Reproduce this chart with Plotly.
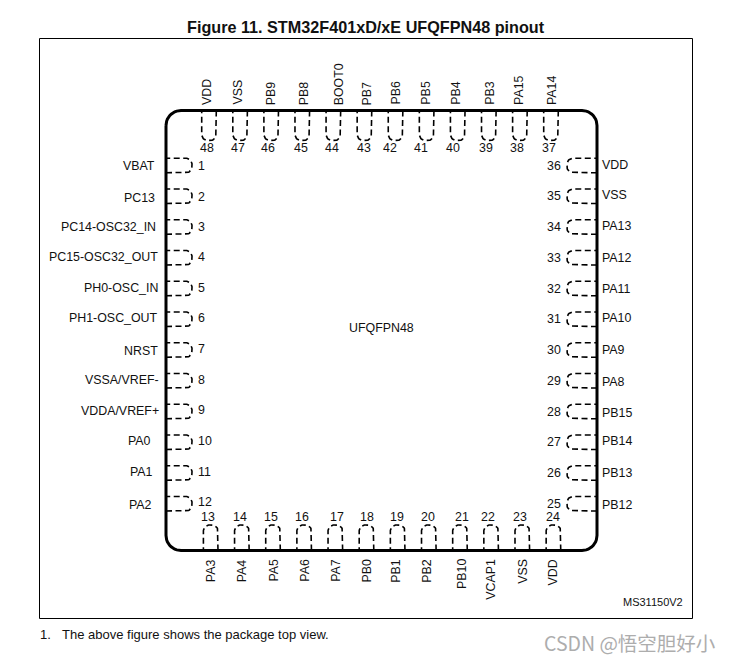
import numpy as np
import plotly.graph_objects as go

# pin names, counter clockwise from pin 1
left_pins = ['VBAT', 'PC13', 'PC14-OSC32_IN', 'PC15-OSC32_OUT', 'PH0-OSC_IN', 'PH1-OSC_OUT',
             'NRST', 'VSSA/VREF-', 'VDDA/VREF+', 'PA0', 'PA1', 'PA2']
bottom_pins = ['PA3', 'PA4', 'PA5', 'PA6', 'PA7', 'PB0', 'PB1', 'PB2', 'PB10', 'VCAP1', 'VSS', 'VDD']
right_pins = ['PB12', 'PB13', 'PB14', 'PB15', 'PA8', 'PA9', 'PA10', 'PA11', 'PA12', 'PA13', 'VSS', 'VDD']
top_pins = ['PA14', 'PA15', 'PB3', 'PB4', 'PB5', 'PB6', 'PB7', 'BOOT0', 'PB8', 'PB9', 'VSS', 'VDD']

title = 'Figure 11. STM32F401xD/xE UFQFPN48 pinout'
package = 'UFQFPN48'
revision = 'MS31150V2'
note_number = '1.'
note = 'The above figure shows the package top view.'
watermark = 'CSDN @悟空胆好小'

FONT = 'Liberation Sans'
INK = '#111111'
NAME_SIZE = 12.4

# package outline, in page pixels
PKG_L, PKG_R, PKG_T, PKG_B = 166, 597, 110.5, 550.5
PKG_RADIUS = 15
FRAME_L, FRAME_R, FRAME_T, FRAME_B = 39.5, 692.5, 38.5, 618.5


def arc(cx, cy, r, start, end):
    a = np.radians(np.linspace(start, end, 12))
    return cx + r * np.cos(a), cy + r * np.sin(a)


def outline():
    r = PKG_RADIUS
    parts = [arc(PKG_L + r, PKG_T + r, r, 180, 270), arc(PKG_R - r, PKG_T + r, r, 270, 360),
             arc(PKG_R - r, PKG_B - r, r, 0, 90), arc(PKG_L + r, PKG_B - r, r, 90, 180)]
    xs = np.concatenate([p[0] for p in parts] + [parts[0][0][:1]])
    ys = np.concatenate([p[1] for p in parts] + [parts[0][1][:1]])
    return xs, ys


def pad(base, center, depth, half, sign, vertical):
    # open end sits on the package edge, the rounded end points inward
    r = 6
    a1, b1 = arc(depth - r, half - r, r, 90, 0)
    a2, b2 = arc(depth - r, -half + r, r, 0, -90)
    u = np.concatenate([[0], a1, a2, [0]])
    v = np.concatenate([[half], b1, b2, [-half]])
    if vertical:
        return center + v, base + sign * u
    return base + sign * u, center + v


fig = go.Figure()


def add_line(xs, ys, width, dash='solid'):
    fig.add_trace(go.Scatter(x=xs, y=ys, mode='lines', hoverinfo='skip', showlegend=False,
                             line=dict(color='black', width=width, dash=dash)))


def label(x, y, text, size=NAME_SIZE, anchor='center', angle=0, yanchor='middle', **font):
    fig.add_annotation(x=x, y=y, text=text, showarrow=False, xanchor=anchor, yanchor=yanchor,
                       textangle=angle, xref='x', yref='y', borderpad=0,
                       font=dict(family=font.get('family', FONT), size=size, color=font.get('color', INK)))


add_line([FRAME_L, FRAME_R, FRAME_R, FRAME_L, FRAME_L], [FRAME_T, FRAME_T, FRAME_B, FRAME_B, FRAME_T], 1)
add_line(*outline(), 3)

PAD_DASH = '6px,3.5px'
PAD_WIDTH = 1.6
side_y = 165.5 + 30.75 * np.arange(12)
bottom_x = 210.7 + 31.16 * np.arange(12)
top_x = 551 - 31.09 * np.arange(12)

# hand nudges so the labels sit where the datasheet put them
left_name_x = [156, 156, 157, 159, 159, 159, 159, 160, 160, 152, 154, 153]
left_name_dy = [0, 2, 0, -1, -1, -1, 1, -1, -1, -1, -1, 1]
left_num_dy = [0.5, 0.75, 0, -0.75, -0.5, -1, -1, -0.75, -1.5, -1.25, -1, -1.5]
right_name_dy = [1, 0, -1, 1, 1, 0, -1, 0, 0, -1, -1, -0.5]
bottom_name_dx = [0, 0, 0, 0, 0, 0, -2, -2, 2, -1, 0, 0]
bottom_num_dx = [-3, -2, -2, -2, 2, 0, -1, -1, 2, -3, -2, 0]
top_name_dx = [1, -1, 1, -2, -1, 0, 3, 6, 2, 0, -3, -2]
top_num_dx = [-2, -3, -3, -5, -6, -6, 0, -1, -1, -3, -2, -2]

for i, name in enumerate(left_pins):
    add_line(*pad(PKG_L, side_y[i], 26, 7.3, 1, False), PAD_WIDTH, PAD_DASH)
    label(left_name_x[i], side_y[i] + left_name_dy[i], name, anchor='right')
    label(196.5, side_y[i] + left_num_dy[i], str(i + 1), anchor='left')

for i, name in enumerate(bottom_pins):
    add_line(*pad(PKG_B, bottom_x[i], 25.5, 7.3, -1, True), PAD_WIDTH, PAD_DASH)
    label(bottom_x[i] + bottom_name_dx[i], 558, name, angle=-90, yanchor='top')
    label(bottom_x[i] + bottom_num_dx[i], 516.5, str(i + 13))

# right side runs bottom to top, pin 25 is next to pin 24
for i, name in enumerate(right_pins):
    y = side_y[11 - i]
    add_line(*pad(PKG_R, y, 30, 7.3, -1, False), PAD_WIDTH, PAD_DASH)
    label(601, y + right_name_dy[i], name, anchor='left')
    label(562, y, str(i + 25), anchor='right')

for i, name in enumerate(top_pins):
    add_line(*pad(PKG_T, top_x[i], 30, 7.3, 1, True), PAD_WIDTH, PAD_DASH)
    label(top_x[i] + top_name_dx[i], 106, name, angle=-90, yanchor='bottom')
    label(top_x[i] + top_num_dx[i], 148, str(i + 37))

label(381, 328, package)
label(366, 27, f'<b>{title}</b>', size=16.2)
label(684, 602, revision, size=11, anchor='right')
label(39, 634, note_number, size=13, anchor='left')
label(61, 634, note, size=13, anchor='left')
label(543, 642, watermark, size=19.5, anchor='left', color='#adadad', family='Noto Sans CJK SC')

fig.update_xaxes(range=[0, 730], visible=False, fixedrange=True)
fig.update_yaxes(range=[661, 0], visible=False, fixedrange=True)
fig.update_layout(width=730, height=661, margin=dict(l=0, r=0, t=0, b=0),
                  plot_bgcolor='white', paper_bgcolor='white', showlegend=False)

fig.write_html('out.html', post_script="document.body.style.margin='0';document.body.style.overflow='hidden';",
               config={'displayModeBar': False})
